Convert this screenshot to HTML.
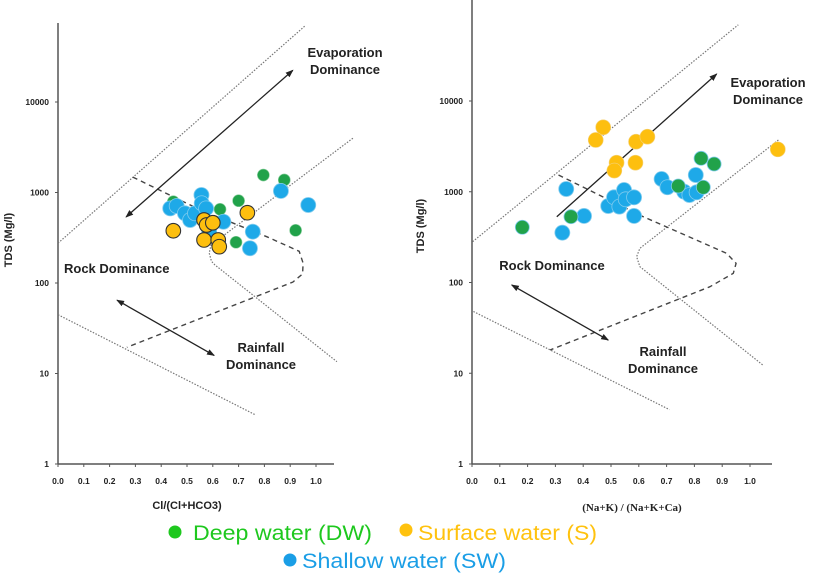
<!DOCTYPE html>
<html><head><meta charset="utf-8"><style>
html,body{margin:0;padding:0;background:#fff;}
svg{display:block;font-family:"Liberation Sans",Arial,sans-serif;}
</style></head><body>
<svg id="chart" width="813" height="575" viewBox="0 0 813 575" xmlns="http://www.w3.org/2000/svg">
<defs>
<marker id="ah" markerWidth="8" markerHeight="8" refX="7" refY="4" orient="auto-start-reverse" markerUnits="userSpaceOnUse"><path d="M0,1 L8,4 L0,7 z" fill="#222"/></marker>
</defs>
<g id="legend">
<g><circle cx="175" cy="532" r="6.5" fill="#1ec81e"/><text x="193" y="540" font-size="21" fill="#1ec81e" textLength="179" lengthAdjust="spacingAndGlyphs">Deep water (DW)</text></g>
<g><circle cx="406" cy="530" r="6.5" fill="#ffc20e"/><text x="418" y="540" font-size="21" fill="#ffc20e" textLength="179" lengthAdjust="spacingAndGlyphs">Surface water (S)</text></g>
<g><circle cx="290" cy="560" r="6.5" fill="#1a9ee6"/><text x="302" y="568" font-size="21" fill="#1a9ee6" textLength="204" lengthAdjust="spacingAndGlyphs">Shallow water (SW)</text></g>
</g>
</svg>
<script>
// ---- data: left panel (Cl/(Cl+HCO3) vs TDS) ----
const xTickLabels = ["0.0","0.1","0.2","0.3","0.4","0.5","0.6","0.7","0.8","0.9","1.0"];
const yTickValues = [1,10,100,1000,10000];
const leftDeepX = [0.796,0.877,0.700,0.628,0.447,0.690,0.921];
const leftDeepY = [1560,1375,811,652,791,282,382];
const leftShallowX = [0.435,0.460,0.492,0.512,0.531,0.556,0.557,0.574,0.641,0.586,0.755,0.744,0.864,0.970];
const leftShallowY = [668,709,589,497,589,938,760,668,475,369,369,242,1040,728];
const leftSurfaceX = [0.447,0.566,0.576,0.600,0.566,0.621,0.625,0.734];
const leftSurfaceY = [378,497,437,463,299,299,252,598];
// ---- data: right panel ((Na+K)/(Na+K+Ca) vs TDS) ----
const rightDeepX = [0.181,0.356,0.742,0.824,0.871,0.832];
const rightDeepY = [406,531,1157,2335,2023,1120];
const rightShallowX = [0.339,0.325,0.403,0.490,0.511,0.530,0.547,0.553,0.583,0.583,0.682,0.703,0.763,0.782,0.805,0.808];
const rightShallowY = [1072,354,541,697,868,685,1045,825,868,541,1381,1120,1002,921,1530,986];
const rightSurfaceX = [0.472,0.445,0.590,0.631,0.520,0.512,0.588,1.100];
const rightSurfaceY = [5130,3720,3560,4040,2090,1710,2090,2930];

const NS="http://www.w3.org/2000/svg";
const svg=document.getElementById('chart');
function mk(tag,attrs,parent){const e=document.createElementNS(NS,tag);for(const k in attrs)e.setAttribute(k,attrs[k]);(parent||svg).appendChild(e);return e;}

function panel(cfg){
  const g=mk('g',{});
  
  
  const sx=v=>cfg.x0+v*cfg.xs;
  const sy=v=>cfg.y1-Math.log10(v)*cfg.ys;
  const syl=l=>cfg.y1-l*cfg.ys;
  // axes
  const ya=mk('line',{x1:cfg.x0,y1:cfg.yTop,x2:cfg.x0,y2:cfg.y1,stroke:'#555','stroke-width':1.5},g);
  
  
  const xa=mk('line',{x1:cfg.x0,y1:cfg.y1,x2:cfg.xEnd,y2:cfg.y1,stroke:'#555','stroke-width':1.5},g);
  
  
  xTickLabels.forEach((t,i)=>{
    const v=parseFloat(t);
    mk('line',{x1:sx(v),y1:cfg.y1,x2:sx(v),y2:cfg.y1+3,stroke:'#555'},g);
    const tx=mk('text',{x:sx(v),y:cfg.y1+20,'font-size':8.5,'font-weight':'bold','text-anchor':'middle',fill:'#222'},g);
    tx.textContent=t;
    
    
  });
  yTickValues.forEach(v=>{
    mk('line',{x1:cfg.x0-3,y1:sy(v),x2:cfg.x0,y2:sy(v),stroke:'#555'},g);
    const tx=mk('text',{x:cfg.x0-9,y:sy(v)+3,'font-size':8.5,'font-weight':'bold','text-anchor':'end',fill:'#222'},g);
    tx.textContent=String(v);
    
    
  });
  const yt=mk('text',{x:0,y:0,'font-size':11,'font-weight':'bold','text-anchor':'middle',fill:'#222',transform:`translate(${cfg.yLabX},${cfg.yLabY}) rotate(-90)`},g);
  yt.textContent='TDS (Mg/l)';
  
  
  const xt=mk('text',{x:cfg.xLabX,y:cfg.xLabY,'font-size':cfg.xLabSize,'font-weight':'bold','text-anchor':'middle',fill:'#222','font-family':cfg.xLabFont},g);
  xt.textContent=cfg.xLab;
  
  
  // boundary lines (x, log10 TDS)
  const pth=(pts)=>pts.map((p,i)=>(i?'L':'M')+sx(p[0]).toFixed(1)+','+syl(p[1]).toFixed(1)).join(' ');
  cfg.dotted.forEach(pts=>{
    const p=mk('path',{d:pth(pts),fill:'none',stroke:'#777','stroke-width':1.2,'stroke-dasharray':'1.5 1.5'},g);
    
    
  });
  const dp=mk('path',{d:pth(cfg.dashed),fill:'none',stroke:'#444','stroke-width':1.4,'stroke-dasharray':'5 4','stroke-linejoin':'round'},g);
  
  
  cfg.arrows.forEach(a=>{
    const l=mk('line',{x1:sx(a[0]),y1:syl(a[1]),x2:sx(a[2]),y2:syl(a[3]),stroke:'#222','stroke-width':1.3,'marker-end':'url(#ah)'},g);
    if(a[4]) l.setAttribute('marker-start','url(#ah)');
    
    
  });
  cfg.labels.forEach(t=>{
    const tx=mk('text',{x:t[0],y:t[1],'font-size':13,'font-weight':'bold','text-anchor':t[3]||'middle',fill:'#222'},g);
    tx.textContent=t[2];
    
    
  });
  cfg.series.forEach(s=>{
    s.x.forEach((xv,i)=>{
      const c=mk('circle',{cx:sx(xv),cy:sy(s.y[i]),r:s.r,fill:s.fill,stroke:s.stroke,'stroke-width':s.sw},g);
      
      
    });
  });
}

panel({name:'left-panel',x0:58,xs:258,y1:464,ys:90.5,yTop:23,xEnd:334,
  yLabX:12,yLabY:240,xLabX:187,xLabY:509,xLab:'Cl/(Cl+HCO3)',xLabSize:11,xLabFont:'Liberation Sans, sans-serif',
  dotted:[[[0,2.44],[0.957,4.84]],[[0,1.65],[0.767,0.54]],[[1.143,3.60],[0.593,2.42],[0.586,2.33],[0.595,2.24],[0.608,2.20],[1.081,1.13]]],
  dashed:[[0.29,3.17],[0.55,2.81],[0.81,2.51],[0.935,2.35],[0.95,2.22],[0.948,2.10],[0.91,2.01],[0.267,1.29]],
  arrows:[[0.264,2.73,0.91,4.35,true],[0.229,1.81,0.605,1.20,true]],
  labels:[[345,57,'Evaporation'],[345,74,'Dominance'],[64,273,'Rock Dominance','start'],[261,352,'Rainfall'],[261,369,'Dominance']],
  series:[
    {name:'deep-water-point',x:leftDeepX,y:leftDeepY,r:6,fill:'#21a24a',stroke:'#8ccf9f',sw:0.6},
    {name:'shallow-water-point',x:leftShallowX,y:leftShallowY,r:7.5,fill:'#1ea9e8',stroke:'#7fcbee',sw:0.8},
    {name:'surface-water-point',x:leftSurfaceX,y:leftSurfaceY,r:7.3,fill:'#fdbf0f',stroke:'#333',sw:1.1}
  ]});

panel({name:'right-panel',x0:472,xs:278,y1:464,ys:90.75,yTop:0,xEnd:772,
  yLabX:424,yLabY:226,xLabX:632,xLabY:511,xLab:'(Na+K) / (Na+K+Ca)',xLabSize:11,xLabFont:'Liberation Serif, serif',
  dotted:[[[0.002,2.45],[0.958,4.84]],[[0.005,1.68],[0.71,0.60]],[[1.102,3.57],[0.604,2.377],[0.592,2.284],[0.604,2.174],[1.046,1.091]]],
  dashed:[[0.311,3.185],[0.616,2.725],[0.916,2.322],[0.95,2.212],[0.94,2.101],[0.856,1.954],[0.281,1.256]],
  arrows:[[0.305,2.725,0.88,4.297,false],[0.143,1.972,0.49,1.366,true]],
  labels:[[768,87,'Evaporation'],[768,104,'Dominance'],[552,270,'Rock Dominance'],[663,356,'Rainfall'],[663,373,'Dominance']],
  series:[
    {name:'shallow-water-point',x:rightShallowX,y:rightShallowY,r:7.5,fill:'#1ea9e8',stroke:'#7fcbee',sw:0.8},
    {name:'deep-water-point',x:rightDeepX,y:rightDeepY,r:7,fill:'#21a24a',stroke:'#7fcbee',sw:0.8},
    {name:'surface-water-point',x:rightSurfaceX,y:rightSurfaceY,r:7.5,fill:'#fdbf0f',stroke:'#f5d27a',sw:0.6}
  ]});
</script>
</body></html>
